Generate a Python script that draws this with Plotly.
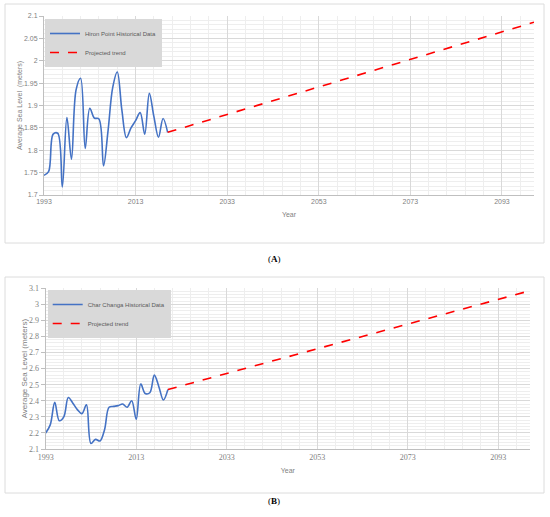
import plotly.graph_objects as go

# historical annual mean sea level
years = list(range(1993, 2021))
hiron_point = [1.744, 1.752, 1.836, 1.838, 1.718, 1.873, 1.780, 1.935, 1.961, 1.804,
               1.894, 1.872, 1.870, 1.765, 1.845, 1.940, 1.975, 1.890, 1.828, 1.850,
               1.866, 1.884, 1.836, 1.927, 1.875, 1.829, 1.871, 1.840]
char_changa = [2.200, 2.250, 2.390, 2.276, 2.300, 2.420, 2.385, 2.345, 2.320, 2.375,
               2.135, 2.160, 2.150, 2.220, 2.360, 2.365, 2.370, 2.380, 2.360, 2.400,
               2.285, 2.505, 2.445, 2.450, 2.560, 2.488, 2.405, 2.470]

# projected trend, start and end
trend_years = [2020, 2100]
hiron_trend = [1.840, 2.086]
changa_trend = [2.470, 3.085]

W, H = 550, 517
BLUE = "#4472C4"
RED = "#FF0000"
TXT = "#7f7f7f"
FONT = "Liberation Sans, Arial, sans-serif"


def px(x):
    return x / W


def py(y):
    return 1 - y / H


fig = go.Figure()

fig.add_trace(go.Scatter(x=years, y=hiron_point, mode="lines", name="Hiron Point Historical Data",
                         line=dict(color=BLUE, width=1.6, shape="spline"),
                         xaxis="x", yaxis="y", legend="legend"))
fig.add_trace(go.Scatter(x=trend_years, y=hiron_trend, mode="lines", name="Projected trend",
                         line=dict(color=RED, width=1.6, dash="dash"),
                         xaxis="x", yaxis="y", legend="legend"))
fig.add_trace(go.Scatter(x=years, y=char_changa, mode="lines", name="Char Changa Historical Data",
                         line=dict(color=BLUE, width=1.6, shape="spline"),
                         xaxis="x2", yaxis="y2", legend="legend2"))
fig.add_trace(go.Scatter(x=trend_years, y=changa_trend, mode="lines", name="Projected trend",
                         line=dict(color=RED, width=1.6, dash="dash"),
                         xaxis="x2", yaxis="y2", legend="legend2"))

xcommon = dict(
    range=[1993, 2100], tick0=1993, dtick=20, showgrid=True, gridcolor="#d9d9d9",
    gridwidth=1, showline=True, linecolor="#bfbfbf", zeroline=False, ticks="",
    automargin=False,
    tickfont=dict(size=7, color=TXT, family=FONT),
    minor=dict(tick0=1993, dtick=4, showgrid=True, gridcolor="#eeeeee"),
)
ycommon = dict(
    showgrid=True, gridcolor="#d9d9d9", gridwidth=1, showline=True, linecolor="#bfbfbf",
    zeroline=False, ticks="outside", ticklen=4, tickcolor="#bfbfbf", automargin=False,
    tickfont=dict(size=7, color=TXT, family=FONT),
)

fig.update_layout(
    width=W, height=H,
    margin=dict(l=0, r=0, t=0, b=0, autoexpand=False),
    paper_bgcolor="white", plot_bgcolor="white",
    xaxis=dict(xcommon, domain=[px(44), px(534)], anchor="y",
               title=dict(text="Year", font=dict(size=7, color=TXT, family=FONT), standoff=7)),
    yaxis=dict(ycommon, domain=[py(195), py(16)], anchor="x", range=[1.7, 2.1], dtick=0.05,
               minor=dict(dtick=0.01, showgrid=True, gridcolor="#eeeeee"),
               title=dict(text="Average Sea Level  (meters)",
                          font=dict(size=7, color=TXT, family=FONT), standoff=0)),
    xaxis2=dict(xcommon, domain=[px(45.7), px(530)], anchor="y2",
                tickfont=dict(size=8, color=TXT, family="Liberation Serif, serif"),
                title=dict(text="Year", font=dict(size=7, color=TXT, family=FONT), standoff=7)),
    yaxis2=dict(ycommon, domain=[py(449), py(288.3)], anchor="x2", range=[2.1, 3.1], dtick=0.1,
                tickfont=dict(size=8, color=TXT, family="Liberation Serif, serif"),
                minor=dict(dtick=0.02, showgrid=True, gridcolor="#eeeeee"),
                title=dict(text="Average Sea Level (meters)",
                           font=dict(size=8, color=TXT, family=FONT), standoff=0)),
    legend=dict(x=px(45), y=py(19), xanchor="left", yanchor="top", bgcolor="#d9d9d9",
                font=dict(size=6, color="#595959", family=FONT), itemwidth=30,
                tracegroupgap=0),
    legend2=dict(x=px(47.7), y=py(290), xanchor="left", yanchor="top", bgcolor="#d9d9d9",
                 font=dict(size=6, color="#595959", family=FONT), itemwidth=30,
                 tracegroupgap=0),
    showlegend=True,
)

# panel frames
for y0, y1 in [(4, 243), (277, 493)]:
    fig.add_shape(type="rect", xref="paper", yref="paper",
                  x0=px(5), x1=px(544), y0=py(y1), y1=py(y0),
                  line=dict(color="#dcdcdc", width=1), fillcolor="rgba(0,0,0,0)")

for label, yy in [("(<b>A</b>)", 259), ("(<b>B</b>)", 508)]:
    fig.add_annotation(text=label, xref="paper", yref="paper", x=px(274), y=py(yy),
                       showarrow=False, font=dict(size=9, color="black", family="Liberation Serif, serif"))

# page body has a default margin; drop it so the figure sits at 0,0
fig.write_html("out.html", config={"displayModeBar": False},
               post_script="document.body.style.margin='0';")
